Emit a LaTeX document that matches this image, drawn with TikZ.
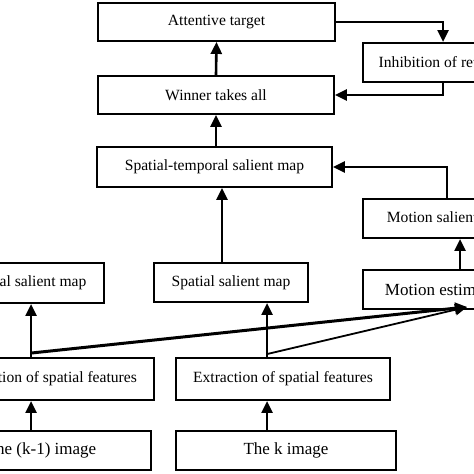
\documentclass[tikz,border=0pt]{standalone}
\usepackage{fontspec}
\setmainfont{Liberation Serif}
\usetikzlibrary{arrows.meta}
\begin{document}
\begin{tikzpicture}[x=1pt,y=-1pt,
 box/.style={draw, line width=1.9pt, inner sep=0pt, fill=white, font=\fontsize{15.6}{18}\selectfont},
 bigbox/.style={box, font=\fontsize{17}{20}\selectfont},
 arr/.style={line width=2.6pt, -{Triangle[length=12pt,width=11pt]}},
 thinarr/.style={line width=1.8pt, -{Triangle[length=12pt,width=11pt]}}]
\useasboundingbox (0,0) rectangle (474,474);
\clip (0,0) rectangle (474,474);
\fill[white] (0,0) rectangle (474,474);

\node[box, minimum width=237pt, minimum height=38pt] (att) at (216.5,22) {Attentive target};
\node[box, minimum width=236pt, minimum height=38pt] (win) at (216,95) {Winner takes all};
\node[box, minimum width=151pt, minimum height=39pt] (inh) at (438.5,62.5) {Inhibition of return};
\node[box, minimum width=235pt, minimum height=40pt] (stm) at (214.5,167) {Spatial-temporal salient map};
\node[box, minimum width=169pt, minimum height=39pt] (msal) at (447.5,218.5) {Motion salient map};
\node[bigbox, minimum width=169pt, minimum height=39pt] (mest) at (447.5,289.5) {Motion estimation};
\node[box, minimum width=154pt, minimum height=40pt] (ssl) at (27,283) {Spatial salient map};
\node[box, minimum width=154pt, minimum height=39pt] (ssc) at (231,282.5) {Spatial salient map};
\node[box, minimum width=214pt, minimum height=42pt] (exl) at (47,379) {Extraction of spatial features};
\node[box, minimum width=214pt, minimum height=42pt] (exc) at (283,379) {Extraction of spatial features};
\node[bigbox, minimum width=220pt, minimum height=39pt] (iml) at (41,450.5) {The (k-1) image};
\node[bigbox, minimum width=220pt, minimum height=39pt] (imc) at (286,450.5) {The k image};

% top part
\draw[arr] (win.north) -- (att.south);
\draw[arr] (att.east) -| ([xshift=81pt]inh.north west);
\draw[arr] ([xshift=81pt]inh.south west) |- (win.east);
\draw[arr] (win.south |- stm.north) -- (win.south);
\draw[arr] ([xshift=-9pt]ssc.north) -- ([xshift=-9pt]ssc.north |- stm.south);
\draw[arr] ([xshift=85pt]msal.north west) |- (stm.east);
\draw[arr] ([xshift=98pt]mest.north west) -- ([xshift=98pt]mest.north west |- msal.south);

% bottom part
\draw[arr] ([xshift=101pt]iml.north west) -- ([xshift=101pt]iml.north west |- exl.south);
\draw[arr] ([xshift=92pt]imc.north west) -- ([xshift=92pt]imc.north west |- exc.south);
\draw[arr] ([xshift=92pt]exl.north west) -- ([xshift=92pt]exl.north west |- ssl.south);
\draw[arr] ([xshift=92pt]exc.north west) -- ([xshift=92pt]exc.north west |- ssc.south);

\coordinate (jl) at ([xshift=92pt,yshift=4pt]exl.north west);
\coordinate (jc) at ([xshift=92pt,yshift=3pt]exc.north west);
\coordinate (tip) at ([xshift=105pt,yshift=3pt]mest.south west);
\draw[arr, line width=3pt] (jl) -- (tip);
\draw[thinarr] (jc) -- (tip);
\end{tikzpicture}
\end{document}
